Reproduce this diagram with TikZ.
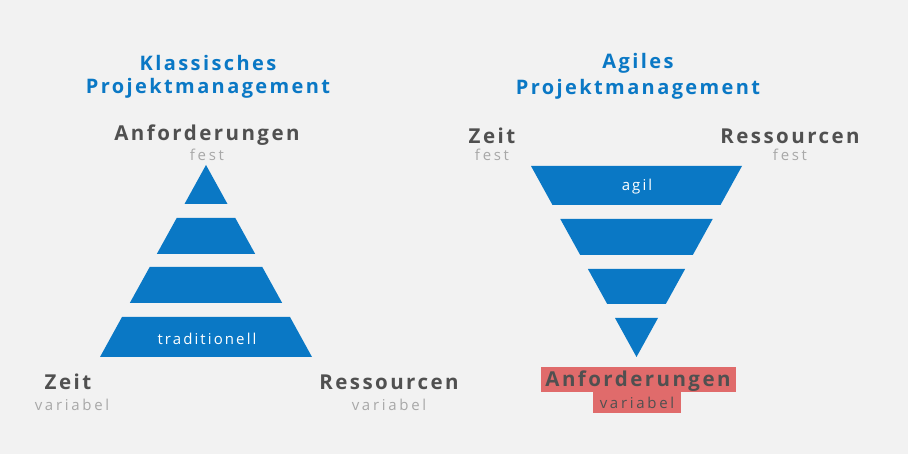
\documentclass[tikz,border=0pt]{standalone}
\usepackage{fontspec}
\setmainfont{Open Sans}
\definecolor{bg}{HTML}{F2F2F2}
\definecolor{bl}{HTML}{0A78C5}
\definecolor{dk}{HTML}{505050}
\definecolor{lt}{HTML}{A8A8A8}
\definecolor{rd}{HTML}{E06B6B}
\begin{document}
\begin{tikzpicture}[x=1pt,y=-1pt,
  title/.style={text=bl,font=\fontsize{20}{20}\selectfont\bfseries\addfontfeatures{LetterSpace=12}},
  lab/.style={text=dk,font=\fontsize{20.5}{20}\selectfont\bfseries\addfontfeatures{LetterSpace=12}},
  sub/.style={text=lt,font=\fontsize{15}{15}\selectfont\addfontfeatures{LetterSpace=18}},
  band/.style={fill=bl,draw=none},
  inb/.style={text=white,font=\fontsize{15}{15}\selectfont\addfontfeatures{LetterSpace=14}}]
\fill[bg] (0,0) rectangle (908,454);
\useasboundingbox (0,0) rectangle (908,454);
% left pyramid (center 206, slope 0.552)
\fill[band] (206,165) -- (206-21.5,204) -- (206+21.5,204) -- cycle;
\fill[band] (206-29.3,218) -- (206+29.3,218) -- (206+49.2,254) -- (206-49.2,254) -- cycle;
\fill[band] (206-56.3,267) -- (206+56.3,267) -- (206+76.2,303) -- (206-76.2,303) -- cycle;
\fill[band] (206-84,317) -- (206+84,317) -- (206+106,357) -- (206-106,357) -- cycle;
\node[inb] (trad) at (207,339) {traditionell};
% right pyramid
\fill[band] (531,166) -- (742,166) -- (636.5+84,205) -- (636.5-84,205) -- cycle;
\fill[band] (636.5-76.2,219) -- (636.5+76.2,219) -- (636.5+56.3,255) -- (636.5-56.3,255) -- cycle;
\fill[band] (636.5-48.6,269) -- (636.5+48.6,269) -- (636.5+29.3,304) -- (636.5-29.3,304) -- cycle;
\fill[band] (636.5-21.5,318) -- (636.5+21.5,318) -- (636.5,357) -- cycle;
\node[inb] (agil) at (637,187) {agil};
% titles
\node[title] (t1a) at (208,63) {Klassisches};
\node[title] (t1b) at (208,88) {Projektmanagement};
\node[title] (t2a) at (638,63) {Agiles};
\node[title] (t2b) at (638,89) {Projektmanagement};
% left labels
\node[lab] (l1) at (207,135) {Anforderungen};
\node[sub] (l1s) at (207,155) {fest};
\node[lab] (l2) at (68,382) {Zeit};
\node[sub] (l2s) at (72,405) {variabel};
\node[lab] (l3) at (389,382) {Ressourcen};
\node[sub] (l3s) at (389,405) {variabel};
% right labels
\node[lab] (r1) at (492,136) {Zeit};
\node[sub] (r1s) at (492,155) {fest};
\node[lab] (r2) at (790,136) {Ressourcen};
\node[sub] (r2s) at (790,155) {fest};
\fill[rd] (541,367) rectangle (736,392);
\fill[rd] (593,391) rectangle (681,413);
\node[lab] (r3) at (638,381) {Anforderungen};
\node[sub,text=dk] (r3s) at (637,403) {variabel};
\end{tikzpicture}
\end{document}
